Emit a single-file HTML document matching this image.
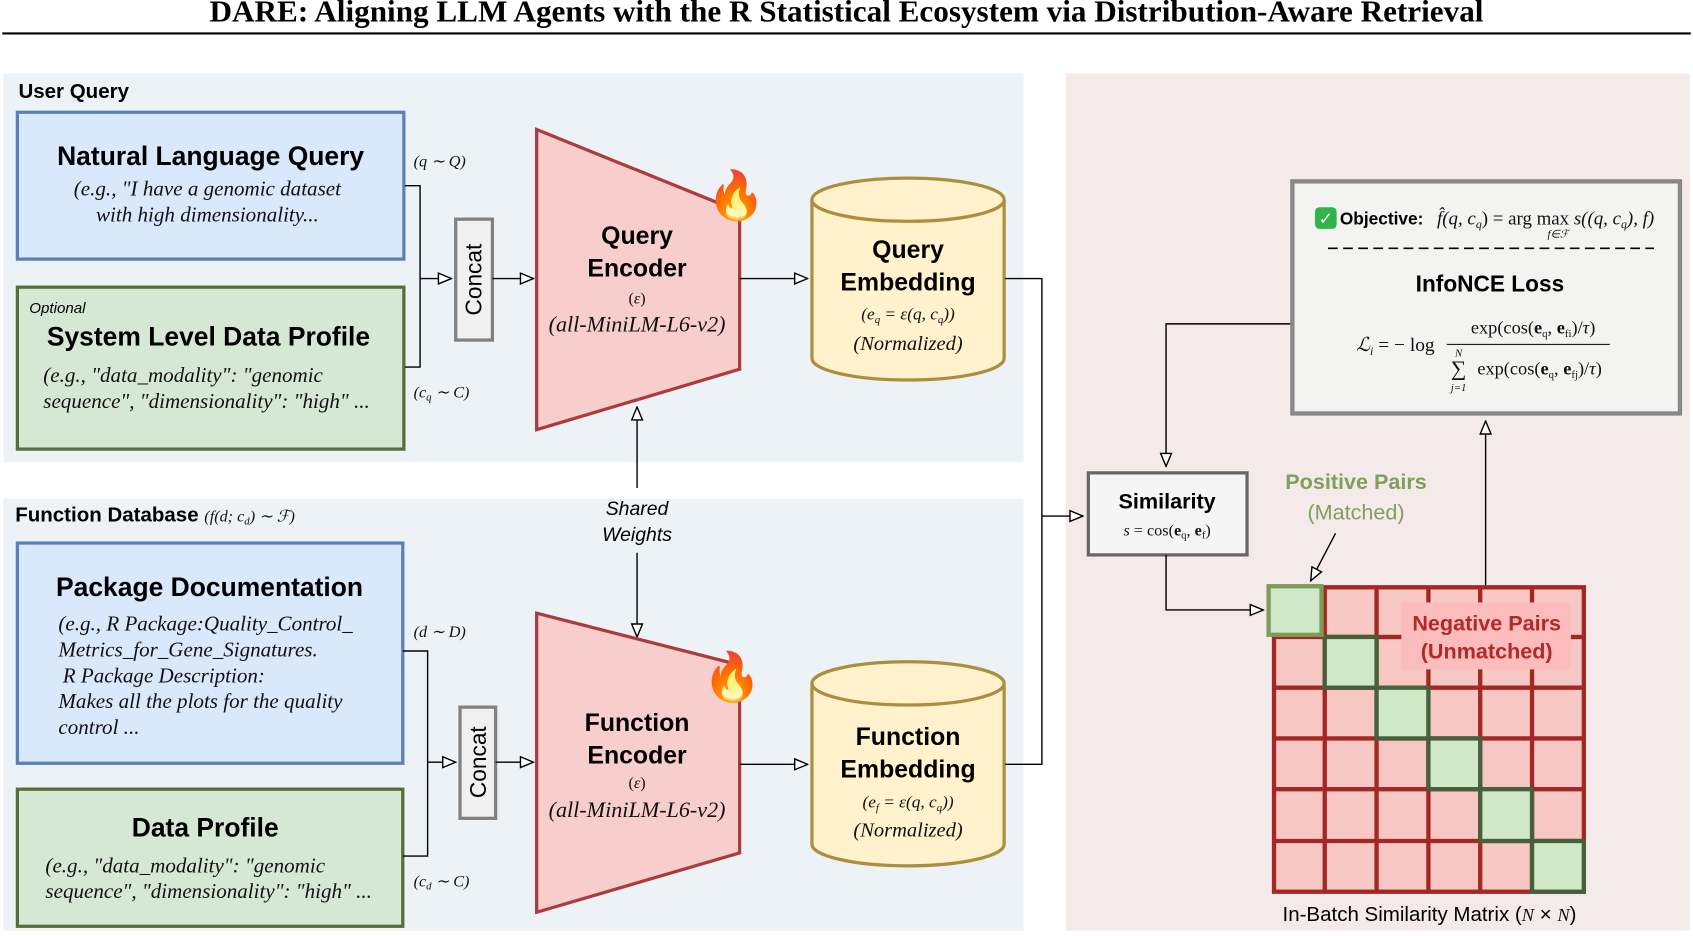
<!DOCTYPE html>
<html><head><meta charset="utf-8"><style>
html,body{margin:0;padding:0;background:#fff;}
svg{display:block;}
.sb{font-family:"Liberation Sans",sans-serif;font-weight:bold;fill:#000;}
.ss{font-family:"Liberation Sans",sans-serif;fill:#000;}
.si{font-family:"Liberation Serif",serif;font-style:italic;fill:#111;}
.sr{font-family:"Liberation Serif",serif;fill:#111;}
</style></head><body>
<svg width="1693" height="936" viewBox="0 0 1568 867" xmlns="http://www.w3.org/2000/svg">
<defs>
<marker id="a" markerWidth="14" markerHeight="12" refX="13" refY="6" orient="auto" markerUnits="userSpaceOnUse">
<path d="M1,1 L13,6 L1,11 Z" fill="#fff" stroke="#000" stroke-width="1.3"/></marker>
</defs>
<rect width="1568" height="867" fill="#fff"/>
<text x="784" y="20" text-anchor="middle" font-family="Liberation Serif,serif" font-weight="bold" font-size="28.5" textLength="1180" lengthAdjust="spacingAndGlyphs">DARE: Aligning LLM Agents with the R Statistical Ecosystem via Distribution-Aware Retrieval</text>
<line x1="2" y1="31" x2="1566" y2="31" stroke="#000" stroke-width="2"/>

<rect x="3" y="68" width="945" height="360" fill="#edf2f6"/>
<rect x="3" y="462" width="945" height="400" fill="#edf2f6"/>
<rect x="987" y="68" width="578" height="794" fill="#f5eaea"/>

<text x="17" y="91" class="sb" font-size="19">User Query</text>
<rect x="16" y="104" width="358" height="136" fill="#dae8fc" stroke="#5b80b7" stroke-width="3"/>
<text x="195" y="153" text-anchor="middle" class="sb" font-size="24.5">Natural Language Query</text>
<text x="192" y="181" text-anchor="middle" class="si" font-size="19.5">(e.g., "I have a genomic dataset</text>
<text x="192" y="205" text-anchor="middle" class="si" font-size="19.5">with high dimensionality...</text>

<rect x="16" y="266" width="358" height="150" fill="#d5e8d4" stroke="#566d3a" stroke-width="3"/>
<text x="27" y="290" class="ss" font-style="italic" font-size="14">Optional</text>
<text x="193" y="320" text-anchor="middle" class="sb" font-size="24.5">System Level Data Profile</text>
<text x="40" y="354" class="si" font-size="19.5">(e.g., "data_modality": "genomic</text>
<text x="40" y="378" class="si" font-size="19.5">sequence", "dimensionality": "high" ...</text>

<text x="383" y="154" class="si" font-size="15">(q ∼ Q)</text>
<text x="383" y="368" class="si" font-size="15">(c<tspan font-size="10" dy="3">q</tspan><tspan dy="-3"> ∼ C)</tspan></text>

<polyline points="375,172 389,172 389,340 375,340" fill="none" stroke="#000" stroke-width="1.3"/>
<line x1="389" y1="258" x2="418" y2="258" stroke="#000" stroke-width="1.3" marker-end="url(#a)"/>
<rect x="422" y="203" width="34" height="112" fill="#f0f0f0" stroke="#808080" stroke-width="3"/>
<text transform="translate(446,259) rotate(-90)" text-anchor="middle" class="ss" font-size="21">Concat</text>
<line x1="456" y1="258" x2="494" y2="258" stroke="#000" stroke-width="1.3" marker-end="url(#a)"/>

<polygon points="497,120 685,196 685,342 497,398" fill="#f8cecc" stroke="#ab3c3e" stroke-width="3"/>
<text x="590" y="226" text-anchor="middle" class="sb" font-size="23">Query</text>
<text x="590" y="256" text-anchor="middle" class="sb" font-size="23">Encoder</text>
<text x="590" y="281" text-anchor="middle" class="sr" font-size="15">(<tspan font-style="italic">ε</tspan>)</text>
<text x="590" y="307" text-anchor="middle" class="si" font-size="20.5">(all-MiniLM-L6-v2)</text>
<text x="682" y="196" text-anchor="middle" font-size="44">🔥</text>

<line x1="685" y1="258" x2="748" y2="258" stroke="#000" stroke-width="1.3" marker-end="url(#a)"/>
<path d="M752,185 L752,332 A89,20 0 0 0 930,332 L930,185" fill="#fff2cc" stroke="#ad8e3f" stroke-width="3"/>
<ellipse cx="841" cy="185" rx="89" ry="20" fill="#fff2cc" stroke="#ad8e3f" stroke-width="3"/>
<text x="841" y="239" text-anchor="middle" class="sb" font-size="23">Query</text>
<text x="841" y="269" text-anchor="middle" class="sb" font-size="23">Embedding</text>
<text x="841" y="296" text-anchor="middle" class="si" font-size="16">(e<tspan font-size="10" dy="3">q</tspan><tspan dy="-3"> = ε(q, c</tspan><tspan font-size="10" dy="3">q</tspan><tspan dy="-3">))</tspan></text>
<text x="841" y="324" text-anchor="middle" class="si" font-size="19">(Normalized)</text>

<text x="590" y="477" text-anchor="middle" class="ss" font-style="italic" font-size="18">Shared</text>
<text x="590" y="501" text-anchor="middle" class="ss" font-style="italic" font-size="18">Weights</text>
<line x1="590" y1="452" x2="590" y2="377" stroke="#000" stroke-width="1.3" marker-end="url(#a)"/>
<line x1="590" y1="512" x2="590" y2="590" stroke="#000" stroke-width="1.3" marker-end="url(#a)"/>

<text x="14" y="483" class="sb" font-size="19">Function Database <tspan class="si" font-weight="normal" font-size="15">(f(d; c<tspan font-size="10" dy="3">d</tspan><tspan dy="-3">) ∼ ℱ)</tspan></tspan></text>
<rect x="16" y="503" width="357" height="204" fill="#dae8fc" stroke="#5b80b7" stroke-width="3"/>
<text x="194" y="552" text-anchor="middle" class="sb" font-size="24.5">Package Documentation</text>
<text x="54" y="584" class="si" font-size="19.5">(e.g., R Package:Quality_Control_</text>
<text x="54" y="608" class="si" font-size="19.5">Metrics_for_Gene_Signatures.</text>
<text x="58" y="632" class="si" font-size="19.5">R Package Description:</text>
<text x="54" y="656" class="si" font-size="19.5">Makes all the plots for the quality</text>
<text x="54" y="680" class="si" font-size="19.5">control ...</text>

<rect x="16" y="731" width="357" height="127" fill="#d5e8d4" stroke="#566d3a" stroke-width="3"/>
<text x="190" y="775" text-anchor="middle" class="sb" font-size="24.5">Data Profile</text>
<text x="42" y="808" class="si" font-size="19.5">(e.g., "data_modality": "genomic</text>
<text x="42" y="832" class="si" font-size="19.5">sequence", "dimensionality": "high" ...</text>

<text x="383" y="590" class="si" font-size="15">(d ∼ D)</text>
<text x="383" y="821" class="si" font-size="15">(c<tspan font-size="10" dy="3">d</tspan><tspan dy="-3"> ∼ C)</tspan></text>
<polyline points="373,603 396,603 396,793 373,793" fill="none" stroke="#000" stroke-width="1.3"/>
<line x1="396" y1="706" x2="422" y2="706" stroke="#000" stroke-width="1.3" marker-end="url(#a)"/>
<rect x="426" y="655" width="33" height="103" fill="#f0f0f0" stroke="#808080" stroke-width="3"/>
<text transform="translate(450,706) rotate(-90)" text-anchor="middle" class="ss" font-size="21">Concat</text>
<line x1="459" y1="706" x2="494" y2="706" stroke="#000" stroke-width="1.3" marker-end="url(#a)"/>

<polygon points="497,568 685,616 685,790 497,845" fill="#f8cecc" stroke="#ab3c3e" stroke-width="3"/>
<text x="590" y="677" text-anchor="middle" class="sb" font-size="23">Function</text>
<text x="590" y="707" text-anchor="middle" class="sb" font-size="23">Encoder</text>
<text x="590" y="730" text-anchor="middle" class="sr" font-size="15">(<tspan font-style="italic">ε</tspan>)</text>
<text x="590" y="757" text-anchor="middle" class="si" font-size="20.5">(all-MiniLM-L6-v2)</text>
<text x="678" y="642" text-anchor="middle" font-size="44">🔥</text>

<line x1="685" y1="708" x2="748" y2="708" stroke="#000" stroke-width="1.3" marker-end="url(#a)"/>
<path d="M752,633 L752,782 A89,20 0 0 0 930,782 L930,633" fill="#fff2cc" stroke="#ad8e3f" stroke-width="3"/>
<ellipse cx="841" cy="633" rx="89" ry="20" fill="#fff2cc" stroke="#ad8e3f" stroke-width="3"/>
<text x="841" y="690" text-anchor="middle" class="sb" font-size="23">Function</text>
<text x="841" y="720" text-anchor="middle" class="sb" font-size="23">Embedding</text>
<text x="841" y="748" text-anchor="middle" class="si" font-size="16">(e<tspan font-size="10" dy="3">f</tspan><tspan dy="-3"> = ε(q, c</tspan><tspan font-size="10" dy="3">q</tspan><tspan dy="-3">))</tspan></text>
<text x="841" y="775" text-anchor="middle" class="si" font-size="19">(Normalized)</text>

<polyline points="931,258 965,258 965,708 931,708" fill="none" stroke="#000" stroke-width="1.3"/>
<line x1="965" y1="478" x2="1003" y2="478" stroke="#000" stroke-width="1.3" marker-end="url(#a)"/>

<rect x="1008" y="438" width="147" height="76" fill="#f5f5f5" stroke="#666" stroke-width="3"/>
<text x="1081" y="471" text-anchor="middle" class="sb" font-size="20">Similarity</text>
<text x="1081" y="496" text-anchor="middle" class="sr" font-size="15"><tspan font-style="italic">s</tspan> = cos(<tspan font-weight="bold">e</tspan><tspan font-size="10" dy="3">q</tspan><tspan dy="-3">, </tspan><tspan font-weight="bold">e</tspan><tspan font-size="10" dy="3">f</tspan><tspan dy="-3">)</tspan></text>
<polyline points="1197,300 1080,300 1080,432" fill="none" stroke="#000" stroke-width="1.3" marker-end="url(#a)"/>
<polyline points="1080,514 1080,565 1170,565" fill="none" stroke="#000" stroke-width="1.3" marker-end="url(#a)"/>

<rect x="1197" y="168" width="359" height="215" fill="#f3f4f2" stroke="#888" stroke-width="4"/>
<rect x="1218" y="192" width="20" height="20" rx="4" fill="#2fb34a"/>
<text x="1228" y="208" text-anchor="middle" fill="#fff" font-family="DejaVu Sans,sans-serif" font-weight="bold" font-size="16">✓</text>
<text x="1241" y="208" class="sb" font-size="16">Objective:</text>
<text x="1331" y="208" class="si" font-size="17.5">f̂(q, c<tspan font-size="11" dy="3">q</tspan><tspan dy="-3" font-style="normal">) = arg max</tspan><tspan> s((q, c</tspan><tspan font-size="11" dy="3">q</tspan><tspan dy="-3">), f)</tspan></text>
<text x="1443" y="220" text-anchor="middle" class="si" font-size="10">f∈ℱ</text>
<line x1="1230" y1="230" x2="1532" y2="230" stroke="#000" stroke-width="1.5" stroke-dasharray="9,5"/>
<text x="1380" y="270" text-anchor="middle" class="sb" font-size="21">InfoNCE Loss</text>
<text x="1256" y="325" class="si" font-size="18">ℒ<tspan font-size="11" dy="4">i</tspan><tspan dy="-4" font-style="normal"> = − log</tspan></text>
<text x="1420" y="309" text-anchor="middle" class="sr" font-size="17">exp(cos(<tspan font-weight="bold">e</tspan><tspan font-size="10" dy="3">q</tspan><tspan dy="-3">, </tspan><tspan font-weight="bold">e</tspan><tspan font-size="10" dy="3">fi</tspan><tspan dy="-3">)/</tspan><tspan font-style="italic">τ</tspan>)</text>
<line x1="1340" y1="319" x2="1491" y2="319" stroke="#000" stroke-width="1"/>
<text x="1351" y="330" text-anchor="middle" class="si" font-size="10">N</text>
<text x="1351" y="348" text-anchor="middle" class="sr" font-size="20">∑</text>
<text x="1351" y="362" text-anchor="middle" class="si" font-size="10">j=1</text>
<text x="1426" y="347" text-anchor="middle" class="sr" font-size="17">exp(cos(<tspan font-weight="bold">e</tspan><tspan font-size="10" dy="3">q</tspan><tspan dy="-3">, </tspan><tspan font-weight="bold">e</tspan><tspan font-size="10" dy="3">fj</tspan><tspan dy="-3">)/</tspan><tspan font-style="italic">τ</tspan>)</text>
<line x1="1376" y1="556" x2="1376" y2="390" stroke="#000" stroke-width="1.3" marker-end="url(#a)"/>

<g stroke="#a32824" stroke-width="4" fill="#f6c7c3">
<rect x="1180" y="590" width="287" height="236"/>
<rect x="1224" y="544" width="243" height="46"/>
</g>
<g stroke="#a32824" stroke-width="4">
<line x1="1180" y1="637" x2="1467" y2="637"/><line x1="1180" y1="684" x2="1467" y2="684"/>
<line x1="1180" y1="731" x2="1467" y2="731"/><line x1="1180" y1="779" x2="1467" y2="779"/>
<line x1="1227" y1="544" x2="1227" y2="826"/><line x1="1275" y1="544" x2="1275" y2="826"/>
<line x1="1323" y1="544" x2="1323" y2="826"/><line x1="1371" y1="544" x2="1371" y2="826"/>
<line x1="1419" y1="544" x2="1419" y2="826"/>
</g>
<g stroke="#47603c" stroke-width="4" fill="#d0e8c8">
<rect x="1227" y="590" width="48" height="47"/>
<rect x="1275" y="637" width="48" height="47"/>
<rect x="1323" y="684" width="48" height="47"/>
<rect x="1371" y="731" width="48" height="48"/>
<rect x="1419" y="779" width="48" height="47"/>
</g>
<rect x="1175" y="543" width="49" height="45" fill="#d0e8c8" stroke="#7d9c5a" stroke-width="4"/>
<rect x="1298" y="558" width="157" height="62" fill="#fbbcbb"/>
<text x="1377" y="584" text-anchor="middle" font-family="Liberation Sans,sans-serif" font-weight="bold" font-size="20" fill="#b02a2a">Negative Pairs</text>
<text x="1377" y="610" text-anchor="middle" font-family="Liberation Sans,sans-serif" font-weight="bold" font-size="20" fill="#b02a2a">(Unmatched)</text>
<text x="1256" y="453" text-anchor="middle" font-family="Liberation Sans,sans-serif" font-weight="bold" font-size="20" fill="#7ea05a">Positive Pairs</text>
<text x="1256" y="481" text-anchor="middle" font-family="Liberation Sans,sans-serif" font-size="20" fill="#7ea05a">(Matched)</text>
<line x1="1237" y1="494" x2="1214" y2="538" stroke="#000" stroke-width="1.3" marker-end="url(#a)"/>
<text x="1324" y="853" text-anchor="middle" class="ss" font-size="19">In-Batch Similarity Matrix (<tspan class="si" font-size="17">N</tspan> × <tspan class="si" font-size="17">N</tspan>)</text>
</svg>
</body></html>
